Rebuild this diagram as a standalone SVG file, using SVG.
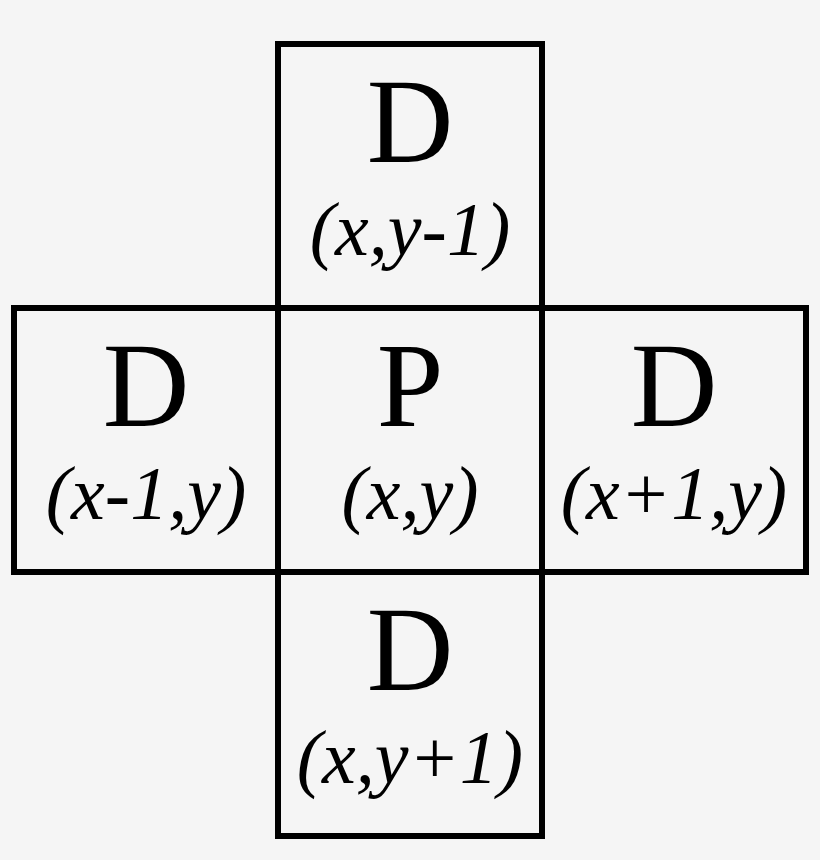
<svg xmlns="http://www.w3.org/2000/svg" width="820" height="860" viewBox="0 0 820 860">
<style>
.box{fill:none;stroke:#000;stroke-width:6}
.big{font-family:"Liberation Serif",serif;font-size:120px;text-anchor:middle;fill:#000}
.lbl{font-family:"Liberation Serif",serif;font-style:italic;font-size:76px;text-anchor:middle;fill:#000}
</style>
<rect width="820" height="860" fill="#f5f5f5"/>
<g id="top">
<rect class="box" x="278" y="44" width="264" height="264"/>
<text class="big" x="410" y="162">D</text>
<text class="lbl" x="410" y="255">(x,y-1)</text>
</g>
<g id="left">
<rect class="box" x="14" y="308" width="264" height="264"/>
<text class="big" x="146" y="426">D</text>
<text class="lbl" x="146" y="519">(x-1,y)</text>
</g>
<g id="center">
<rect class="box" x="278" y="308" width="264" height="264"/>
<text class="big" x="410" y="426">P</text>
<text class="lbl" x="410" y="519">(x,y)</text>
</g>
<g id="right">
<rect class="box" x="542" y="308" width="264" height="264"/>
<text class="big" x="674" y="426">D</text>
<text class="lbl" x="674" y="519">(x+1,y)</text>
</g>
<g id="bottom">
<rect class="box" x="278" y="572" width="264" height="264"/>
<text class="big" x="410" y="690">D</text>
<text class="lbl" x="410" y="783">(x,y+1)</text>
</g>
<g id="connectors"/>
</svg>
